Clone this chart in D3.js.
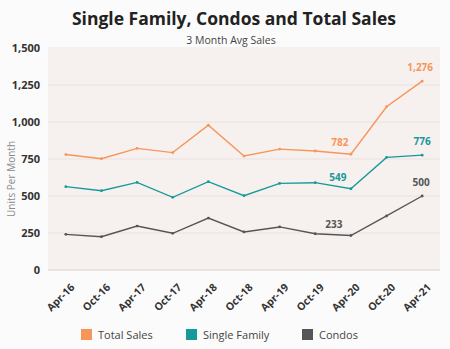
<!DOCTYPE html>
<html lang="en">
<head>
<meta charset="UTF-8">
<title>Single Family, Condos and Total Sales</title>
<script src="https://d3js.org/d3.v7.min.js"></script>
<style>
    body { margin: 0; background: #fcfbfb; font-family: "Open Sans", sans-serif; }
    svg { display: block; }
</style>
</head>
<body>
<svg id="chart"></svg>
<script>
    // data
    const months = ["Apr-16", "Oct-16", "Apr-17", "Oct-17", "Apr-18", "Oct-18", "Apr-19", "Oct-19", "Apr-20", "Oct-20", "Apr-21"];
    const totalSales = [780, 752, 822, 793, 978, 770, 817, 804, 782, 1103, 1276];
    const singleFamily = [563, 536, 592, 491, 597, 502, 585, 590, 549, 761, 776];
    const condos = [241, 225, 297, 248, 351, 257, 291, 245, 233, 365, 500];
    const yTicks = [0, 250, 500, 750, 1000, 1250, 1500];

    const series = [
        { name: "Total Sales", values: totalSales, color: "#f7955a" },
        { name: "Single Family", values: singleFamily, color: "#17999a" },
        { name: "Condos", values: condos, color: "#555555" }
    ];

    // value labels shown on the chart: [series index, month index, dx, dy]
    const callouts = [
        [0, 8, -11, -8], [0, 10, -2, -10],
        [1, 8, -13, -8], [1, 10, 0, -10],
        [2, 8, -17, -8], [2, 10, -1, -10]
    ];

    const W = 450, H = 349;
    const plotLeft = 48, plotRight = 440, plotTop = 48, plotBottom = 270;

    const svg = d3.select("#chart").attr("width", W).attr("height", H);

    const x = d3.scalePoint().domain(months).range([plotLeft, plotRight]).padding(0.5);
    const y = d3.scaleLinear().domain([0, 1500]).range([plotBottom, plotTop]);

    // plot background
    svg.append("rect")
        .attr("x", plotLeft).attr("y", plotTop - 1)
        .attr("width", plotRight - plotLeft).attr("height", plotBottom - plotTop + 1)
        .attr("fill", "#f6f1ef");

    // gridlines
    svg.append("g")
        .selectAll("line")
        .data(yTicks.filter(d => d > 0 && d < 1500))
        .enter().append("line")
        .attr("x1", plotLeft).attr("x2", plotRight)
        .attr("y1", d => y(d)).attr("y2", d => y(d))
        .attr("stroke", "#e9e1df").attr("stroke-width", 1);

    // y axis
    const yAxis = svg.append("g")
        .attr("transform", "translate(" + plotLeft + ",0)")
        .call(d3.axisLeft(y).tickValues(yTicks).tickFormat(d3.format(",")).tickSize(0).tickPadding(8));
    yAxis.select(".domain").remove();
    yAxis.selectAll("text")
        .attr("font-family", "Open Sans").attr("font-size", 11).attr("font-weight", "bold").attr("fill", "#333");

    // x axis
    svg.append("line")
        .attr("x1", plotLeft).attr("x2", plotRight)
        .attr("y1", plotBottom).attr("y2", plotBottom)
        .attr("stroke", "#d8d0ce");

    const xAxis = svg.append("g")
        .attr("transform", "translate(0," + plotBottom + ")")
        .call(d3.axisBottom(x).tickSize(0).tickPadding(0));
    xAxis.select(".domain").remove();
    xAxis.selectAll("text")
        .attr("font-family", "Open Sans").attr("font-size", 10.5).attr("font-weight", "bold").attr("fill", "#333")
        .attr("text-anchor", "end")
        .attr("dy", 0)
        .attr("transform", "translate(9,18) rotate(-45)");

    // axis title
    svg.append("text")
        .attr("transform", "translate(15,179) rotate(-90)")
        .attr("text-anchor", "middle")
        .attr("font-size", 10).attr("fill", "#8a8a8a")
        .text("Units Per Month");

    // lines and dots
    const line = d3.line()
        .x((d, i) => x(months[i]))
        .y(d => y(d));

    series.forEach(s => {
        svg.append("path")
            .datum(s.values)
            .attr("fill", "none")
            .attr("stroke", s.color)
            .attr("stroke-width", 1.4)
            .attr("d", line);

        svg.append("g")
            .selectAll("circle")
            .data(s.values)
            .enter().append("circle")
            .attr("cx", (d, i) => x(months[i]))
            .attr("cy", d => y(d))
            .attr("r", 1.4)
            .attr("fill", s.color);
    });

    // value callouts
    svg.append("g")
        .selectAll("text")
        .data(callouts)
        .enter().append("text")
        .attr("x", d => x(months[d[1]]) + d[2])
        .attr("y", d => y(series[d[0]].values[d[1]]) + d[3])
        .attr("text-anchor", "middle")
        .attr("font-size", 10).attr("font-weight", "bold")
        .attr("fill", d => series[d[0]].color)
        .text(d => d3.format(",")(series[d[0]].values[d[1]]));

    // titles
    svg.append("text")
        .attr("x", 234).attr("y", 25)
        .attr("text-anchor", "middle")
        .attr("font-size", 17.5).attr("font-weight", "bold").attr("fill", "#222")
        .text("Single Family, Condos and Total Sales");

    svg.append("text")
        .attr("x", 231).attr("y", 44)
        .attr("text-anchor", "middle")
        .attr("font-size", 10.5).attr("fill", "#444")
        .text("3 Month Avg Sales");

    // legend
    const legendX = [81, 186, 302];
    const legend = svg.append("g")
        .selectAll("g")
        .data(series)
        .enter().append("g")
        .attr("transform", (d, i) => "translate(" + legendX[i] + ",329)");

    legend.append("rect")
        .attr("width", 11).attr("height", 11)
        .attr("fill", d => d.color);

    legend.append("text")
        .attr("x", 17).attr("y", 10)
        .attr("font-size", 11).attr("fill", "#444")
        .text(d => d.name);
</script>
</body>
</html>
